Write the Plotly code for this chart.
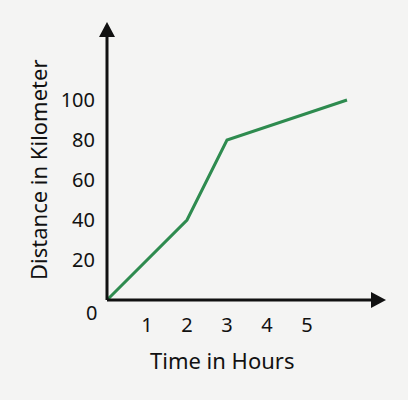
import plotly.graph_objects as go

# data
hours = [0, 2, 3, 6]
distance = [0, 40, 80, 100]
x_ticks = [1, 2, 3, 4, 5]
y_ticks = [20, 40, 60, 80, 100]

INK = "#111111"
GREEN = "#2e8b4f"
BG = "#f4f4f3"
FONT = "Noto Sans"

x_range = [-0.25, 7.0]
y_range = [-5, 139]

# 40 px per hour, 2 px per km
px_x = 1 / 40
px_y = 1 / 2
x_end, y_end = 6.6, 131.5  # where the axis lines stop and arrows start
head_len, head_half = 15, 8


def tri(points):
    return "M " + " L ".join(f"{a},{b}" for a, b in points) + " Z"


fig = go.Figure()
fig.add_trace(go.Scatter(x=hours, y=distance, mode="lines",
                         line=dict(color=GREEN, width=3), hoverinfo="skip"))

# axis lines + arrow heads
fig.add_shape(type="line", x0=0, y0=0, x1=x_end, y1=0, line=dict(color=INK, width=3))
fig.add_shape(type="line", x0=0, y0=0, x1=0, y1=y_end, line=dict(color=INK, width=3))
fig.add_shape(type="path",
              path=tri([(x_end, head_half * px_y), (x_end + head_len * px_x, 0),
                        (x_end, -head_half * px_y)]),
              fillcolor=INK, line=dict(width=0))
fig.add_shape(type="path",
              path=tri([(-head_half * px_x, y_end), (head_half * px_x, y_end),
                        (0, y_end + head_len * px_y)]),
              fillcolor=INK, line=dict(width=0))

fig.add_annotation(x=0, y=0, text="0", showarrow=False, xanchor="right", yanchor="top",
                   xshift=-8, yshift=3, font=dict(size=20, color=INK, family=FONT))
fig.add_annotation(x=2.87, y=0, text="Time in Hours", showarrow=False, yanchor="middle",
                   yshift=-60, font=dict(size=22, color=INK, family=FONT))
fig.add_annotation(x=0, y=65, text="Distance in Kilometer", showarrow=False, textangle=-90,
                   xanchor="center", xshift=-69, font=dict(size=22, color=INK, family=FONT))

fig.update_layout(
    width=408, height=400,
    margin=dict(l=97, r=21, t=22, b=90),
    paper_bgcolor=BG, plot_bgcolor=BG,
    showlegend=False,
    font=dict(family=FONT, color=INK, size=20),
    xaxis=dict(range=x_range, tickvals=x_ticks, showgrid=False, zeroline=False,
               showline=False, ticks="outside", ticklen=7, tickcolor=BG,
               anchor="free", position=(0 - y_range[0]) / (y_range[1] - y_range[0]),
               fixedrange=True),
    yaxis=dict(range=y_range, tickvals=y_ticks, showgrid=False, zeroline=False,
               showline=False, ticks="outside", ticklen=8, tickcolor=BG,
               anchor="free", position=(0 - x_range[0]) / (x_range[1] - x_range[0]),
               fixedrange=True),
)

fig.write_html("out.html", config={"displayModeBar": False},
               post_script="document.body.style.margin='0';"
                           "document.body.style.background='" + BG + "';")
